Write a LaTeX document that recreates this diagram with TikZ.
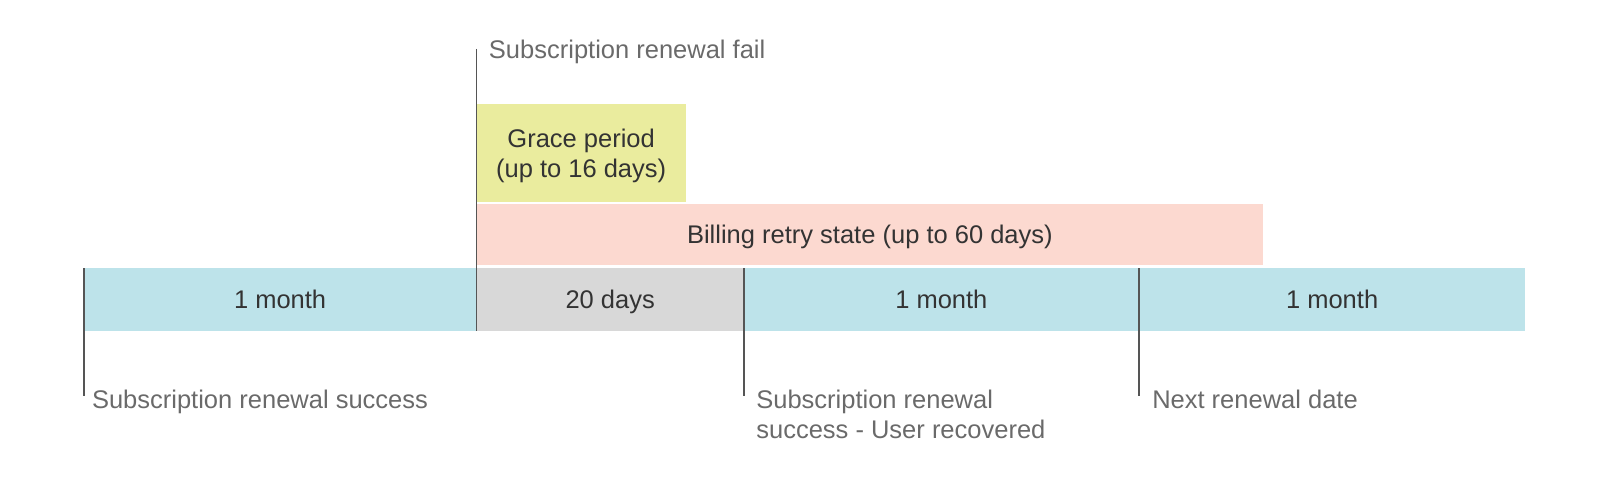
\documentclass[tikz,border=0pt]{standalone}
\usepackage{fontspec}
\setmainfont{Liberation Sans}
\definecolor{barblue}{HTML}{BDE3EA}
\definecolor{bargray}{HTML}{D8D8D8}
\definecolor{graceyel}{HTML}{EAEC9E}
\definecolor{retrypink}{HTML}{FCD9D0}
\definecolor{tickcol}{HTML}{555555}
\definecolor{boxtext}{HTML}{333333}
\definecolor{labeltext}{HTML}{6A6A6A}
\begin{document}
\begin{tikzpicture}[x=1.0204pt,y=-1.0204pt,
  seg/.style={fill=#1, draw=none, anchor=north west, inner sep=0pt, outer sep=0pt,
    text=boxtext, font=\fontsize{25.5}{30}\selectfont, text depth=0pt},
  tick/.style={draw=tickcol, line width=1.8pt},
  lbl/.style={anchor=base west, inner sep=0pt, text=labeltext, font=\fontsize{25.5}{30.6}\selectfont, align=left}]
\useasboundingbox (0,0) rectangle (1568,488);
% timeline segments
\node[seg=barblue, minimum width=392.9pt, minimum height=62.2pt] (m1) at (82,263) {1 month};
\node[seg=bargray, minimum width=267.3pt, minimum height=62.2pt] (d20) at (467,263) {20 days};
\node[seg=barblue, minimum width=394.9pt, minimum height=62.2pt] (m2) at (729,263) {1 month};
\node[seg=barblue, minimum width=386.7pt, minimum height=62.2pt] (m3) at (1116,263) {1 month};
% states
\node[seg=graceyel, align=center, minimum width=209.2pt, minimum height=98pt] (grace) at (467,102) {Grace period\\(up to 16 days)};
\node[seg=retrypink, minimum width=786.7pt, minimum height=61.2pt] (retry) at (467,200) {Billing retry state (up to 60 days)};
% tick ends
\coordinate (t0) at (82,388);
\coordinate (t1) at (467,48);
\coordinate (t2) at (729,388);
\coordinate (t3) at (1116,388);
\draw[tick] (m1.north west) -- (t0);
\draw[tick] (t1) -- (d20.south west);
\draw[tick] (m2.north west) -- (t2);
\draw[tick] (m3.north west) -- (t3);
% labels
\node[lbl] (lfail) at (479,57) {Subscription renewal fail};
\node[lbl] (lsucc) at (90,400) {Subscription renewal success};
\node[lbl] (lrec) at (741,430) {Subscription renewal\\success - User recovered};
\node[lbl] (lnext) at (1129,400) {Next renewal date};
\end{tikzpicture}
\end{document}
